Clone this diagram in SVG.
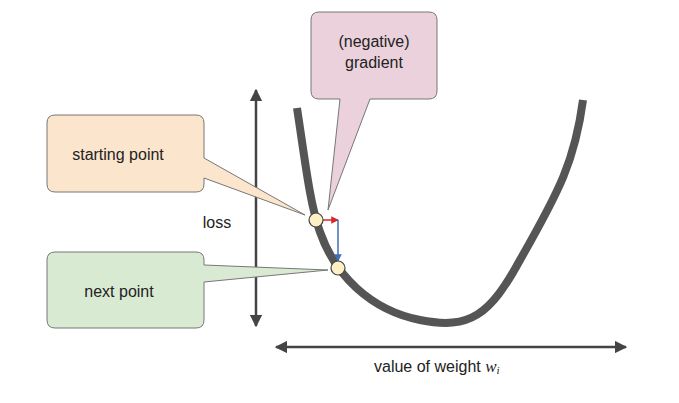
<svg xmlns="http://www.w3.org/2000/svg" width="679" height="403" viewBox="0 0 679 403">
<style>
.t{font-family:"Liberation Sans",Arial,sans-serif;font-size:16px;fill:#222}
.ax{stroke:#444;stroke-width:2.5;fill:none}
.co{stroke:#777;stroke-width:1}
.pt{fill:#fdf0c4;stroke:#444;stroke-width:1.2}
</style>
<defs>
<marker id="ah" viewBox="0 0 10 10" refX="9" refY="5" markerWidth="5" markerHeight="5" orient="auto-start-reverse"><path d="M0,0L10,5L0,10z" fill="#444"/></marker>
<marker id="r" viewBox="0 0 10 10" refX="9" refY="5" markerWidth="5" markerHeight="5" orient="auto"><path d="M0,0L10,5L0,10z" fill="#d62828"/></marker>
<marker id="b" viewBox="0 0 10 10" refX="9" refY="5" markerWidth="5" markerHeight="5" orient="auto"><path d="M0,0L10,5L0,10z" fill="#3d6fb6"/></marker>
</defs>
<rect width="679" height="403" fill="#fff"/>
<g id="connectors">
<line class="ax" x1="256" y1="90" x2="256" y2="326" marker-start="url(#ah)" marker-end="url(#ah)"/>
<line class="ax" x1="276" y1="347" x2="626" y2="347" marker-start="url(#ah)" marker-end="url(#ah)"/>
<path d="M297,108 C305,160 310,205 320,232 C335,275 370,310 420,320 C470,330 490,315 520,260 C560,190 575,160 583,100" fill="none" stroke="#555" stroke-width="8"/>
<line x1="323" y1="220" x2="338" y2="220" stroke="#d62828" stroke-width="1.5" marker-end="url(#r)"/>
<line x1="338" y1="220" x2="338" y2="261" stroke="#3d6fb6" stroke-width="1.5" marker-end="url(#b)"/>
</g>
<g id="starting-point">
<path class="co" d="M55,115H196Q204,115 204,123V158L305,215L204,178V184Q204,192 196,192H55Q47,192 47,184V123Q47,115 55,115Z" fill="#fce5cd"/>
<text class="t" x="118" y="160" text-anchor="middle">starting point</text>
</g>
<g id="negative-gradient">
<path class="co" d="M319,12H429Q437,12 437,20V91Q437,99 429,99H370L328,210L340,99H319Q311,99 311,91V20Q311,12 319,12Z" fill="#ead1dc"/>
<text class="t" x="374" y="47" text-anchor="middle">(negative)</text>
<text class="t" x="374" y="68" text-anchor="middle">gradient</text>
</g>
<g id="next-point">
<path class="co" d="M55,252H196Q204,252 204,260V265L328,270L204,282V320Q204,328 196,328H55Q47,328 47,320V260Q47,252 55,252Z" fill="#d9ead3"/>
<text class="t" x="119" y="297" text-anchor="middle">next point</text>
</g>
<circle class="pt" id="start-dot" cx="316" cy="220" r="7"/>
<circle class="pt" id="next-dot" cx="338" cy="268" r="7"/>
<text class="t" x="217" y="228" text-anchor="middle">loss</text>
<text class="t" x="374" y="372" font-size="15">value of weight <tspan font-family="Liberation Serif,serif" font-style="italic" font-size="17">w</tspan><tspan font-family="Liberation Serif,serif" font-style="italic" font-size="11" dy="2">i</tspan></text>
</svg>
